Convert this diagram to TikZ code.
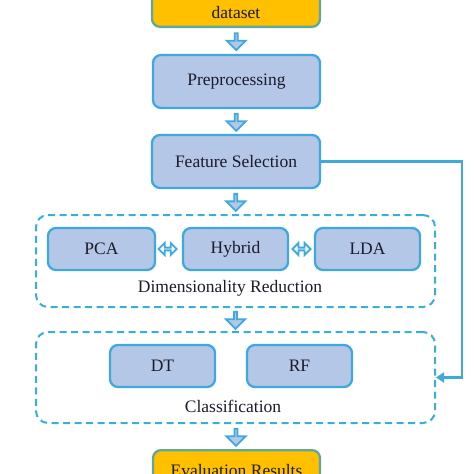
\documentclass[tikz,border=0pt]{standalone}
\usepackage{fontspec}
\setmainfont{Liberation Serif}
\usetikzlibrary{shapes.arrows,calc,arrows.meta}
\definecolor{boxfill}{HTML}{B4C7E7}
\definecolor{boxline}{HTML}{3FA9DF}
\definecolor{dashline}{HTML}{3AAFD6}
\definecolor{orangefill}{HTML}{FFC000}
\definecolor{orangeline}{HTML}{5FA89E}
\definecolor{txt}{HTML}{1B1B2A}
\tikzset{
  x=1pt, y=-1pt,
  stepbox/.style={draw=boxline, fill=boxfill, line width=2.3pt, rounded corners=8pt,
    inner sep=0pt, text=txt, font=\fontsize{17.5}{20}\selectfont},
  orangebox/.style={draw=orangeline, fill=orangefill, line width=2.3pt, rounded corners=8pt,
    inner sep=0pt, text=txt, font=\fontsize{17.5}{20}\selectfont},
  groupbox/.style={draw=dashline, line width=2pt, dash pattern=on 7pt off 4.5pt,
    rounded corners=12pt, inner sep=0pt},
  grouplabel/.style={text=txt, font=\fontsize{17.5}{20}\selectfont, inner sep=0pt},
  downarrow/.style={single arrow, draw=boxline, fill=boxfill, line width=1.8pt,
    minimum height=17pt, minimum width=19pt, single arrow head extend=4.5pt,
    inner sep=0pt, rotate=-90},
  twoway/.style={double arrow, draw=boxline, fill=white, line width=1.8pt,
    minimum height=18pt, minimum width=12pt, double arrow head extend=3pt,
    inner sep=0pt},
  feedback/.style={draw=boxline, line width=2.4pt, -{Triangle[length=8pt,width=10pt]}}
}
\begin{document}
\begin{tikzpicture}
\useasboundingbox (0,0) rectangle (474,474);
\begin{scope}
\clip (0,0) rectangle (474,474);
\node[orangebox, minimum width=168pt, text height=40pt, text depth=8pt, anchor=south] (data) at (236,28) {dataset};
\node[stepbox, minimum width=167pt, minimum height=53pt] (pre) at (236.5,81.5) {Preprocessing};
\node[stepbox, minimum width=168pt, minimum height=53pt] (fs) at (236,161.5) {Feature Selection};
\node[groupbox, minimum width=399pt, minimum height=92pt] (dr) at (235.5,261) {};
\node[stepbox, minimum width=107pt, minimum height=42pt] (pca) at (101.5,249) {PCA};
\node[stepbox, minimum width=105pt, minimum height=42pt] (hyb) at (235.5,249) {Hybrid};
\node[stepbox, minimum width=105pt, minimum height=42pt] (lda) at (367.5,249) {LDA};
\node[grouplabel] (drl) at (230,288) {Dimensionality Reduction};
\node[groupbox, minimum width=399pt, minimum height=91pt] (cls) at (235.5,377.5) {};
\node[stepbox, minimum width=105pt, minimum height=42pt] (dt) at (162.5,366) {DT};
\node[stepbox, minimum width=105pt, minimum height=42pt] (rf) at (299.5,366) {RF};
\node[grouplabel] (clsl) at (233,406) {Classification};
\node[orangebox, minimum width=167pt, text height=26pt, text depth=30pt, anchor=north] (eval) at (236.5,449) {Evaluation Results};
\node[downarrow] (a1) at ($(data.south)!0.5!(pre.north)$) {};
\node[downarrow] (a2) at ($(pre.south)!0.5!(fs.north)$) {};
\node[downarrow] (a3) at ($(fs.south)!0.5!(dr.north)$) {};
\node[downarrow] (a4) at ($(dr.south)!0.5!(cls.north)$) {};
\node[downarrow] (a5) at ($(cls.south)!0.5!(eval.north)$) {};
\node[twoway] (d1) at ($(pca.east)!0.45!(hyb.west)$) {};
\node[twoway] (d2) at ($(hyb.east)!0.5!(lda.west)$) {};
\coordinate (c1) at (462,161.5);
\coordinate (c2) at (462,377.5);
\draw[feedback] (fs.east) -- (c1) -- (c2) -- (cls.east);
\end{scope}
\end{tikzpicture}
\end{document}
